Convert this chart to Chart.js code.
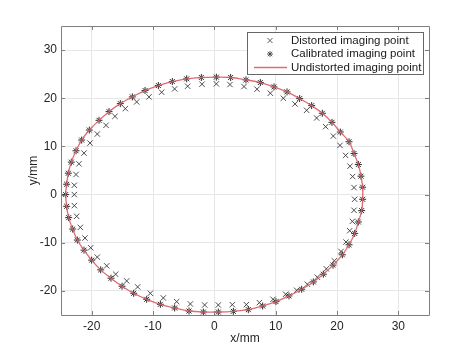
<!DOCTYPE html>
<html>
<head>
<meta charset="utf-8">
<script src="https://cdn.jsdelivr.net/npm/chart.js@4/dist/chart.umd.min.js"></script>
<style>
html,body{margin:0;padding:0;background:#fff;}
#wrap{width:474px;height:355px;}
</style>
</head>
<body>
<div id="wrap"><canvas id="c" width="474" height="355"></canvas></div>
<script>
// ---- data ----
const seriesLabels = ['Distorted imaging point', 'Calibrated imaging point', 'Undistorted imaging point'];
const xTicks = [-20, -10, 0, 10, 20, 30];
const yTicks = [-20, -10, 0, 10, 20, 30];

const distortedX = [-2.01,0.33,2.55,4.84,6.96,9.13,11.25,13.15,15.05,16.68,18.15,19.40,20.49,21.41,22.12,22.55,22.77,22.88,22.77,22.50,22.07,21.47,20.65,19.57,18.26,16.79,15.16,13.42,11.63,9.57,7.34,5.22,2.93,0.65,-1.58,-3.91,-6.14,-8.32,-10.43,-12.50,-14.29,-16.09,-17.55,-19.08,-20.16,-21.09,-21.85,-22.45,-22.83,-22.83,-22.83,-22.55,-22.07,-21.25,-20.27,-19.08,-17.66,-16.20,-14.51,-12.66,-10.65,-8.59,-6.47,-4.35];
const distortedY = [22.92,22.99,22.85,22.43,21.88,21.04,20.00,18.82,17.50,15.90,14.10,12.15,10.21,8.13,5.90,3.75,1.46,-0.97,-3.26,-5.56,-7.50,-9.86,-11.81,-13.75,-15.42,-17.15,-18.61,-19.86,-20.69,-21.74,-22.43,-22.85,-22.85,-22.92,-22.92,-22.71,-22.22,-21.46,-20.49,-19.17,-17.92,-16.53,-14.79,-12.99,-11.04,-9.03,-6.81,-4.51,-2.29,0.00,1.94,4.17,6.39,8.61,10.69,12.57,14.38,16.25,17.85,19.24,20.28,21.25,21.94,22.50];

const calibratedX = [-2.12,0.33,2.66,5.16,7.50,9.73,11.85,13.91,15.87,17.61,19.18,20.54,21.96,22.77,23.48,23.91,24.18,24.18,24.02,23.48,22.88,21.96,20.87,19.35,17.77,16.14,14.24,12.17,10.05,7.88,5.54,3.10,0.65,-1.79,-4.13,-6.47,-8.80,-11.03,-13.15,-15.05,-16.85,-18.53,-20.00,-21.25,-22.34,-23.10,-23.75,-24.08,-24.24,-24.08,-23.80,-23.32,-22.55,-21.63,-20.38,-18.80,-17.17,-15.33,-13.37,-11.30,-9.13,-6.85,-4.51];
const calibratedY = [24.31,24.38,24.31,23.82,23.26,22.36,21.32,19.93,18.47,16.88,15.00,12.99,10.97,8.54,6.25,3.82,1.53,-0.97,-3.33,-5.69,-8.06,-10.42,-12.50,-14.65,-16.53,-18.13,-19.65,-21.04,-22.22,-23.13,-23.89,-24.24,-24.38,-24.38,-24.17,-23.54,-22.78,-21.74,-20.49,-19.03,-17.36,-15.63,-13.61,-11.53,-9.44,-7.15,-4.79,-2.43,0.00,2.15,4.44,6.74,9.10,11.32,13.40,15.42,17.22,18.89,20.28,21.60,22.64,23.47,24.03];

// red reference curve (closed)
const curveX = calibratedX.concat([calibratedX[0]]);
const curveY = calibratedY.concat([calibratedY[0]]);

const zip = (xs, ys) => xs.map((x, i) => ({x: x, y: ys[i]}));

const FONT = '"Liberation Sans", Arial, Helvetica, sans-serif';
const AXIS_GRAY = '#7f7f7f';
const RED = 'rgba(220,100,110,0.95)';

const boxPlugin = {
  id: 'matlabBox',
  afterDraw(chart) {
    const ctx = chart.ctx, a = chart.chartArea;
    const xs = chart.scales.x, ys = chart.scales.y;
    ctx.save();
    ctx.strokeStyle = AXIS_GRAY;
    ctx.lineWidth = 1;
    ctx.beginPath();
    ctx.rect(Math.round(a.left) + 0.5, Math.round(a.top) + 0.5, Math.round(a.right - a.left), Math.round(a.bottom - a.top));
    ctx.stroke();
    // inward ticks
    ctx.beginPath();
    xTicks.forEach(v => {
      const px = Math.round(xs.getPixelForValue(v)) + 0.5;
      ctx.moveTo(px, a.bottom); ctx.lineTo(px, a.bottom - 4);
      ctx.moveTo(px, a.top); ctx.lineTo(px, a.top + 4);
    });
    yTicks.forEach(v => {
      const py = Math.round(ys.getPixelForValue(v)) + 0.5;
      ctx.moveTo(a.left, py); ctx.lineTo(a.left + 4, py);
      ctx.moveTo(a.right, py); ctx.lineTo(a.right - 4, py);
    });
    ctx.stroke();

    // legend
    const lx = 247.5, ly = 32.5, lw = 176, lh = 42;
    ctx.fillStyle = '#fff';
    ctx.fillRect(lx, ly, lw, lh);
    ctx.strokeStyle = '#666';
    ctx.strokeRect(lx, ly, lw, lh);
    const rows = [40.5, 54, 67.5];
    const mx = 270;
    ctx.font = '11.5px ' + FONT;
    ctx.fillStyle = '#1a1a1a';
    ctx.textBaseline = 'middle';
    ctx.textAlign = 'left';
    const ds = chart.data.datasets;
    rows.forEach((ry, i) => {
      ctx.fillText(ds[i].label, 291, ry);
    });
    // marker 1: x
    ctx.strokeStyle = '#333';
    ctx.lineWidth = 0.8;
    ctx.beginPath();
    ctx.moveTo(mx - 2.5, rows[0] - 2.5); ctx.lineTo(mx + 2.5, rows[0] + 2.5);
    ctx.moveTo(mx + 2.5, rows[0] - 2.5); ctx.lineTo(mx - 2.5, rows[0] + 2.5);
    ctx.stroke();
    // marker 2: asterisk
    ctx.beginPath();
    ctx.moveTo(mx - 3, rows[1]); ctx.lineTo(mx + 3, rows[1]);
    ctx.moveTo(mx, rows[1] - 3); ctx.lineTo(mx, rows[1] + 3);
    ctx.moveTo(mx - 2.2, rows[1] - 2.2); ctx.lineTo(mx + 2.2, rows[1] + 2.2);
    ctx.moveTo(mx + 2.2, rows[1] - 2.2); ctx.lineTo(mx - 2.2, rows[1] + 2.2);
    ctx.stroke();
    // line 3
    ctx.strokeStyle = RED;
    ctx.lineWidth = 1.3;
    ctx.beginPath();
    ctx.moveTo(254, rows[2]); ctx.lineTo(287, rows[2]);
    ctx.stroke();
    ctx.restore();
  }
};

new Chart(document.getElementById('c'), {
  type: 'scatter',
  data: {
    datasets: [
      {
        label: seriesLabels[0],
        data: zip(distortedX, distortedY),
        pointStyle: 'crossRot',
        pointRadius: 3.8,
        borderColor: '#3a3a3a',
        backgroundColor: '#3a3a3a',
        pointBorderWidth: 0.9,
        showLine: false,
        order: 3
      },
      {
        label: seriesLabels[1],
        data: zip(calibratedX, calibratedY),
        pointStyle: 'star',
        pointRadius: 3.5,
        borderColor: '#2a2a2a',
        backgroundColor: '#2a2a2a',
        pointBorderWidth: 1,
        showLine: false,
        order: 2
      },
      {
        label: seriesLabels[2],
        data: zip(curveX, curveY),
        showLine: true,
        pointRadius: 0,
        borderColor: RED,
        borderWidth: 1.3,
        tension: 0.4,
        fill: false,
        order: 1
      }
    ]
  },
  options: {
    responsive: false,
    animation: false,
    devicePixelRatio: 1,
    layout: { padding: { left: 0, right: 45, top: 26, bottom: 0 } },
    plugins: {
      legend: { display: false },
      tooltip: { enabled: false }
    },
    scales: {
      x: {
        type: 'linear',
        min: -25, max: 35,
        afterBuildTicks(s) { s.ticks = xTicks.map(v => ({value: v})); },
        afterFit(s) { s.height = 40; },
        grid: { color: '#e6e6e6', drawTicks: false },
        border: { display: false },
        ticks: { color: '#262626', font: { family: FONT, size: 12 }, padding: 4 },
        title: { display: true, text: 'x/mm', color: '#262626', font: { family: FONT, size: 12 }, padding: { top: 0, bottom: 9 } }
      },
      y: {
        type: 'linear',
        min: -25, max: 35,
        afterBuildTicks(s) { s.ticks = yTicks.map(v => ({value: v})); },
        afterFit(s) { s.width = 61; },
        grid: { color: '#e6e6e6', drawTicks: false },
        border: { display: false },
        ticks: { color: '#262626', font: { family: FONT, size: 12 }, padding: 4 },
        title: { display: true, text: 'y/mm', color: '#262626', font: { family: FONT, size: 12 }, padding: { top: 26, bottom: 0 } }
      }
    }
  },
  plugins: [boxPlugin]
});
</script>
</body>
</html>
